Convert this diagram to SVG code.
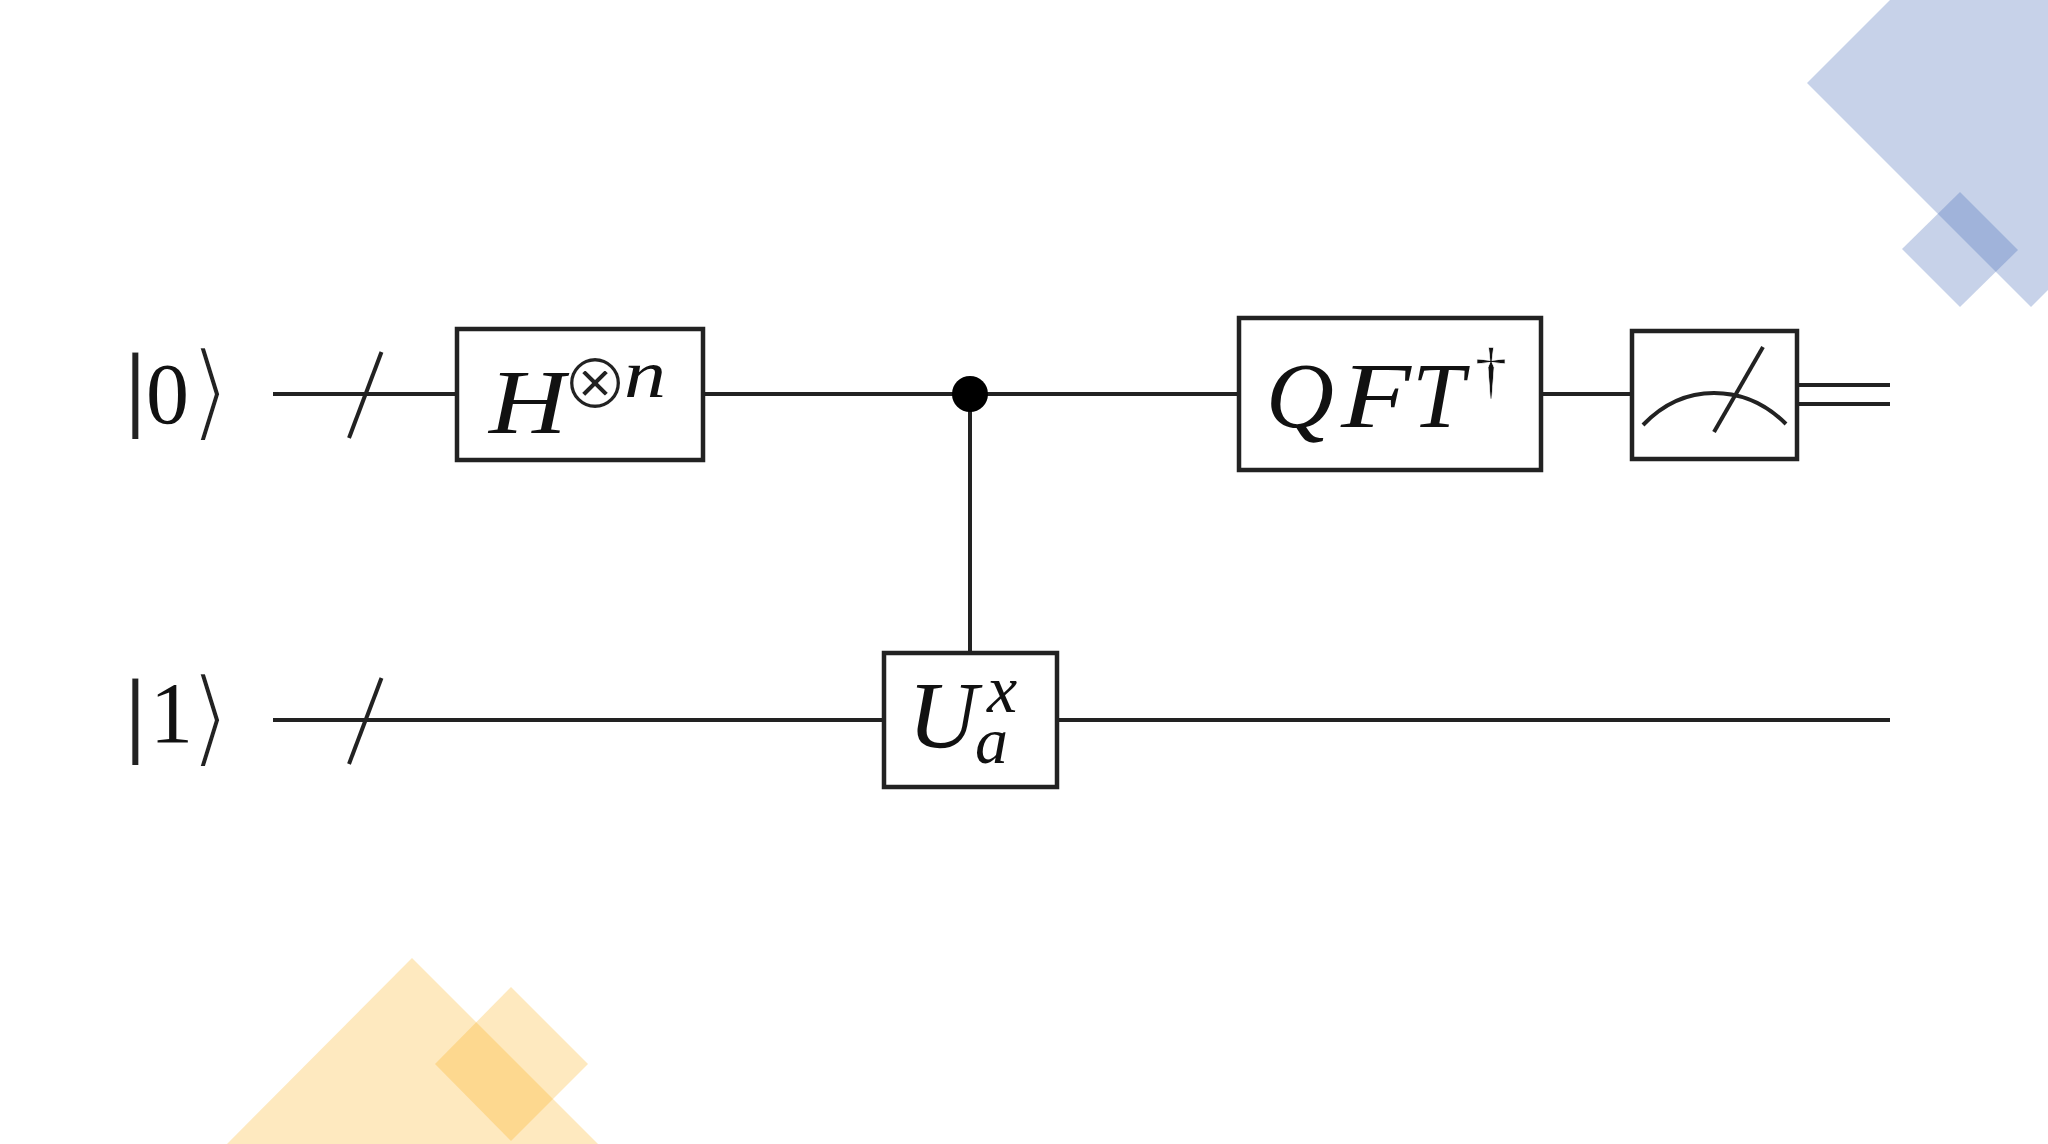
<svg xmlns="http://www.w3.org/2000/svg" width="2048" height="1144" viewBox="0 0 2048 1144">
<style>
.w{stroke:#222;stroke-width:4;fill:none;stroke-linecap:butt}
.b{stroke:#222;stroke-width:4.5;fill:#fff}
.m{font-family:"Liberation Serif",serif;font-style:italic;fill:#111}
.r{font-family:"Liberation Serif",serif;fill:#111}
.s{font-family:"DejaVu Sans",sans-serif;fill:#222}
.bar{stroke:#fff;stroke-width:1.2}
.ang{stroke:#fff;stroke-width:4.5}
.bl{fill:#4a6fb8;fill-opacity:.31}
.ye{fill:#fca900;fill-opacity:.25}
</style>
<g id="decor">
<polygon class="bl" points="1890,0 2048,0 2048,290 2031,307 1807,83"/>
<polygon class="bl" points="1902,249 1960,192 2018,250 1960,307"/>
<polygon class="ye" points="412,958 598,1144 227,1144"/>
<polygon class="ye" points="511,987 588,1064 511,1141 435,1064"/>
</g>
<g id="connectors">
<line class="w" x1="273" y1="394" x2="457" y2="394"/>
<line class="w" x1="703" y1="394" x2="1239" y2="394"/>
<line class="w" x1="1541" y1="394" x2="1632" y2="394"/>
<line class="w" x1="1797" y1="385" x2="1890" y2="385"/>
<line class="w" x1="1797" y1="404" x2="1890" y2="404"/>
<line class="w" x1="273" y1="720" x2="884" y2="720"/>
<line class="w" x1="1057" y1="720" x2="1890" y2="720"/>
<line class="w" x1="970" y1="394" x2="970" y2="653"/>
<line class="w" x1="349" y1="438" x2="381.5" y2="352" stroke-linecap="round"/>
<line class="w" x1="349" y1="764" x2="381.5" y2="678" stroke-linecap="round"/>
</g>
<g id="ket0"><text class="r" font-size="86" y="423"><tspan x="120.5" y="418" class="s bar" font-size="88">|</tspan><tspan x="146" y="423">0</tspan><tspan x="189" y="428" class="s ang" font-size="108">⟩</tspan></text></g>
<g id="ket1"><text class="r" font-size="86" y="742"><tspan x="120.5" y="744" class="s bar" font-size="88">|</tspan><tspan x="150" y="742">1</tspan><tspan x="189" y="754" class="s ang" font-size="108">⟩</tspan></text></g>
<g id="hadamard">
<rect class="b" x="457" y="329" width="246" height="131"/>
<text class="m" font-size="92" x="489" y="433" textLength="78" lengthAdjust="spacingAndGlyphs">H</text>
<text class="s" font-size="80" x="561.5" y="407.5" stroke="#fff" stroke-width="2.5">⊗</text>
<text class="m" font-size="68" x="624" y="397" textLength="42" lengthAdjust="spacingAndGlyphs">n</text>
</g>
<g id="control"><circle cx="970" cy="394" r="18" fill="#000"/></g>
<g id="unitary">
<rect class="b" x="884" y="653" width="173" height="134"/>
<text class="m" font-size="96" x="908" y="748">U</text>
<text class="m" font-size="68" x="987" y="712">x</text>
<text class="m" font-size="66" x="975" y="763">a</text>
</g>
<g id="qft">
<rect class="b" x="1239" y="318" width="302" height="152"/>
<text class="m" font-size="94" x="1266" y="427">Q</text>
<text class="m" font-size="94" x="1341" y="427" textLength="70" lengthAdjust="spacingAndGlyphs">F</text>
<text class="m" font-size="94" x="1412" y="427">T</text>
<text class="r" font-size="64" x="1475" y="392" stroke="#fff" stroke-width=".6">†</text>
</g>
<g id="measure">
<rect class="b" x="1632" y="331" width="165" height="128"/>
<path class="w" d="M1643,425 C1665,402 1690,393 1714,393 C1738,393 1764,402 1786,424" stroke-linecap="round"/>
<line class="w" x1="1714" y1="432" x2="1763" y2="347" stroke-linecap="round"/>
</g>
</svg>
